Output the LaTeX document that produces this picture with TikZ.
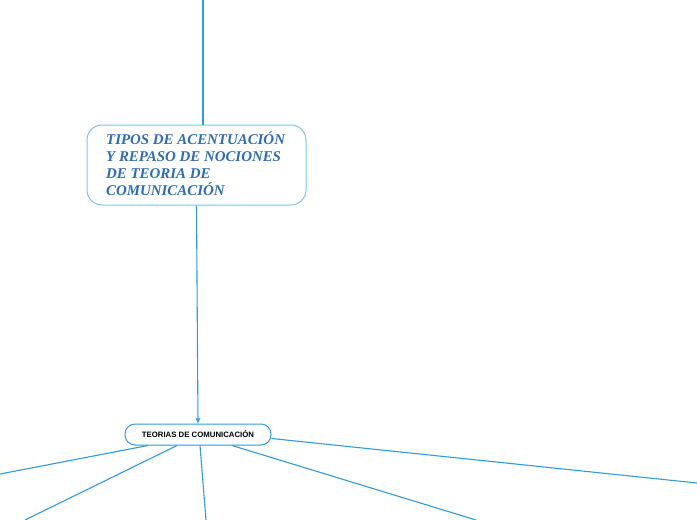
\documentclass[tikz,border=0pt]{standalone}
\usepackage{fontspec}
\setmainfont{Liberation Serif}
\newfontfamily\labelsans{Liberation Sans}
\usetikzlibrary{arrows.meta}
\definecolor{linkblue}{HTML}{2E9BE2}
\definecolor{boxblue}{HTML}{7CC3EE}
\definecolor{txtblue}{HTML}{2C6CB6}
\tikzset{
  link/.style={draw=linkblue, line width=1.1pt},
  mainbox/.style={draw=boxblue, line width=1pt, rounded corners=15pt, minimum width=219pt, minimum height=80pt, inner sep=0pt},
  subbox/.style={draw=linkblue, line width=1pt, rounded corners=10pt, fill=white, minimum width=146pt, minimum height=21pt, inner sep=0pt, font=\labelsans\bfseries\fontsize{7.8}{9}\selectfont},
}
\begin{document}
\begin{tikzpicture}[x=1pt,y=-1pt]
\useasboundingbox (0,0) rectangle (697,520);
\node[mainbox] (main) at (196.5,165) {};
\node[anchor=north west, align=left, text=txtblue, font=\bfseries\itshape\fontsize{14.9}{17}\selectfont, inner sep=0pt] (maintext) at (106,132) {TIPOS DE ACENTUACIÓN\\Y REPASO DE NOCIONES\\DE TEORIA DE\\COMUNICACIÓN};
\coordinate (top) at (203,0);
\node[subbox] (teo) at (198,434.5) {TEORIAS DE COMUNICACIÓN};
\coordinate (e1) at (0,474);
\coordinate (e2) at (25,520);
\coordinate (e3) at (206,520);
\coordinate (e4) at (476,520);
\coordinate (e5) at (697,483);
\draw[link] (top) -- (main.north -| top);
\draw[link, -{Stealth[length=6pt,width=5pt]}] (main.south) -- (teo.north);
\draw[link] ([xshift=-50pt]teo.south) -- (e1);
\draw[link] ([xshift=-21pt]teo.south) -- (e2);
\draw[link] ([xshift=2pt]teo.south) -- (e3);
\draw[link] ([xshift=34pt]teo.south) -- (e4);
\draw[link] ([yshift=-4pt]teo.east) -- (e5);
\end{tikzpicture}
\end{document}
